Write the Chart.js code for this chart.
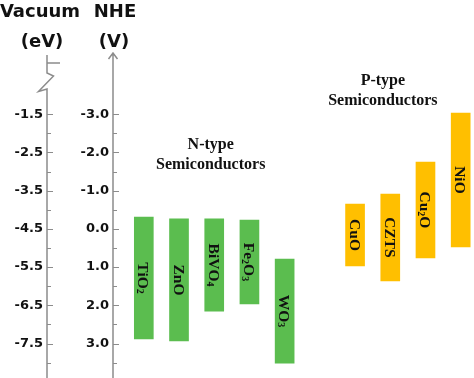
<!DOCTYPE html>
<html>
<head>
<meta charset="utf-8">
<script src="https://cdn.jsdelivr.net/npm/chart.js@4.4.0/dist/chart.umd.min.js"></script>
<style>
  body { margin: 0; background: #fff; }
  #wrap { width: 474px; height: 378px; }
</style>
</head>
<body>
<div id="wrap"><canvas id="band-chart"></canvas></div>
<script>
// band edges vs NHE (V): conduction band = top of bar, valence band = bottom
const nLabels = ['TiO₂', 'ZnO', 'BiVO₄', 'Fe₂O₃', 'WO₃'];
const nCB = [-0.31, -0.26, -0.26, -0.23, 0.79];
const nVB = [2.88, 2.93, 2.15, 1.96, 3.51];

const pLabels = ['CuO', 'CZTS', 'Cu₂O', 'NiO'];
const pCB = [-0.65, -0.91, -1.75, -3.03];
const pVB = [0.97, 1.36, 0.76, 0.47];

// axis ticks
const nheMajor = [-3, -2, -1, 0, 1, 2, 3];
const nheMinor = [-2.5, -1.5, -0.5, 0.5, 1.5, 2.5, 3.5];
const vacMajor = [-1.5, -2.5, -3.5, -4.5, -5.5, -6.5, -7.5];
const vacMinor = [-2, -3, -4, -5, -6, -7, -8];

const vacOffset = -4.5; // E(vacuum) = -4.5 - E(NHE)
const nheMin = -4.6, nheMax = 3.9;

const axisColor = '#8c8c8c';
const textColor = '#111';

function setTicks(major, minor) {
  return (scale) => {
    scale.ticks = major.concat(minor).sort((a, b) => a - b).map(v => ({ value: v }));
  };
}

function fitWidth(w) {
  return (s) => {
    s.width = w;
    s.paddingTop = 0;
    s.paddingBottom = 0;
  };
}

function drawFormula(ctx, text, size) {
  const subs = '₀₁₂₃₄₅₆₇₈₉';
  const big = 'bold ' + size + 'px "Liberation Serif"';
  const small = 'bold ' + Math.round(size * 0.62) + 'px "Liberation Serif"';
  const runs = [];
  for (const ch of text) {
    const k = subs.indexOf(ch);
    runs.push(k >= 0 ? { t: String(k), sub: true } : { t: ch, sub: false });
  }
  let w = 0;
  runs.forEach(r => {
    ctx.font = r.sub ? small : big;
    r.w = ctx.measureText(r.t).width;
    w += r.w;
  });
  let x = -w / 2;
  runs.forEach(r => {
    ctx.font = r.sub ? small : big;
    ctx.fillText(r.t, x, r.sub ? size * 0.46 : size * 0.35);
    x += r.w;
  });
}

const bandDecor = {
  id: 'bandDecor',
  afterDraw(chart) {
    const ctx = chart.ctx;
    const area = chart.chartArea;
    const yS = chart.scales.y;
    const vS = chart.scales.vac;
    const xS = chart.scales.x;
    ctx.save();

    // axis lines (vacuum axis with a break, NHE axis with an arrow)
    ctx.strokeStyle = axisColor;
    ctx.lineWidth = 1.5;
    const ax = vS.right;
    const top = area.top;
    ctx.beginPath();
    ctx.moveTo(ax, top + 2);
    ctx.lineTo(ax, top + 20);
    ctx.lineTo(ax + 6.5, top + 23);
    ctx.lineTo(ax - 8.5, top + 38.5);
    ctx.lineTo(ax, top + 36);
    ctx.lineTo(ax, chart.height);
    ctx.moveTo(ax, top + 10);
    ctx.lineTo(ax + 13, top + 10);
    ctx.stroke();

    const nx = yS.right;
    ctx.beginPath();
    ctx.moveTo(nx, top);
    ctx.lineTo(nx, chart.height);
    ctx.moveTo(nx - 4.5, top + 6);
    ctx.lineTo(nx, top);
    ctx.lineTo(nx + 4.5, top + 6);
    ctx.stroke();

    // tick marks pointing right
    ctx.lineWidth = 1;
    ctx.beginPath();
    yS.ticks.forEach(t => {
      const py = Math.round(yS.getPixelForValue(t.value)) + 0.5;
      const len = nheMajor.includes(t.value) ? 6 : 4;
      ctx.moveTo(nx, py);
      ctx.lineTo(nx + len, py);
    });
    vS.ticks.forEach(t => {
      const py = Math.round(vS.getPixelForValue(t.value)) + 0.5;
      const len = vacMajor.includes(t.value) ? 6 : 4;
      ctx.moveTo(ax, py);
      ctx.lineTo(ax + len, py);
    });
    ctx.stroke();

    // axis titles
    ctx.fillStyle = textColor;
    ctx.textAlign = 'center';
    ctx.textBaseline = 'alphabetic';
    ctx.font = 'bold 18px "DejaVu Sans"';
    ctx.fillText('Vacuum', 40, 17);
    ctx.fillText('(eV)', 42, 47);
    ctx.fillText('NHE', 115, 17);
    ctx.fillText('(V)', 114, 47);

    // group captions
    ctx.font = 'bold 16px "Liberation Serif"';
    ctx.textBaseline = 'middle';
    [['N-type', 'Semiconductors', 1.9, -2.19], ['P-type', 'Semiconductors', 6.79, -3.87]].forEach(g => {
      const gx = xS.getPixelForValue(g[2]);
      const gy = yS.getPixelForValue(g[3]);
      ctx.fillText(g[0], gx, gy);
      ctx.fillText(g[1], gx, gy + 20);
    });

    // rotated labels inside bars
    ctx.textAlign = 'left';
    ctx.textBaseline = 'alphabetic';
    chart.data.datasets.forEach((ds, d) => {
      chart.getDatasetMeta(d).data.forEach((el, i) => {
        ctx.save();
        ctx.translate(el.x, (el.y + el.base) / 2);
        ctx.rotate(Math.PI / 2);
        drawFormula(ctx, ds.names[i], 15.5);
        ctx.restore();
      });
    });
    ctx.restore();
  }
};

new Chart(document.getElementById('band-chart').getContext('2d'), {
  type: 'bar',
  data: {
    datasets: [{
      label: 'N-type',
      names: nLabels,
      data: nLabels.map((n, i) => ({ x: i, y: [nCB[i], nVB[i]] })),
      backgroundColor: '#5bbd4f'
    }, {
      label: 'P-type',
      names: pLabels,
      data: pLabels.map((n, i) => ({ x: i + nLabels.length + 1, y: [pCB[i], pVB[i]] })),
      backgroundColor: '#ffbf00'
    }]
  },
  options: {
    responsive: true,
    maintainAspectRatio: false,
    animation: false,
    layout: { padding: { top: 53, right: 0, bottom: 0, left: 0 } },
    datasets: { bar: { grouped: false, barThickness: 19, borderWidth: 0 } },
    plugins: { legend: { display: false }, tooltip: { enabled: false } },
    scales: {
      x: { type: 'linear', display: false, offset: false, min: -0.875, max: 9.378 },
      y: {
        type: 'linear', position: 'left', reverse: true, weight: 0,
        min: nheMin, max: nheMax,
        grid: { drawOnChartArea: false, drawTicks: false },
        border: { display: false },
        afterBuildTicks: setTicks(nheMajor, nheMinor),
        afterFit: fitWidth(66),
        ticks: {
          autoSkip: false, padding: 4, color: textColor,
          font: { family: 'DejaVu Sans', weight: 'bold', size: 13 },
          callback: (v) => nheMajor.includes(v) ? v.toFixed(1) : ''
        }
      },
      vac: {
        type: 'linear', position: 'left', weight: 1,
        min: vacOffset - nheMax, max: vacOffset - nheMin,
        grid: { drawOnChartArea: false, drawTicks: false },
        border: { display: false },
        afterBuildTicks: setTicks(vacMajor, vacMinor),
        afterFit: fitWidth(47),
        ticks: {
          autoSkip: false, padding: 4, color: textColor,
          font: { family: 'DejaVu Sans', weight: 'bold', size: 13 },
          callback: (v) => vacMajor.includes(v) ? v.toFixed(1) : ''
        }
      }
    }
  },
  plugins: [bandDecor]
});
</script>
</body>
</html>
